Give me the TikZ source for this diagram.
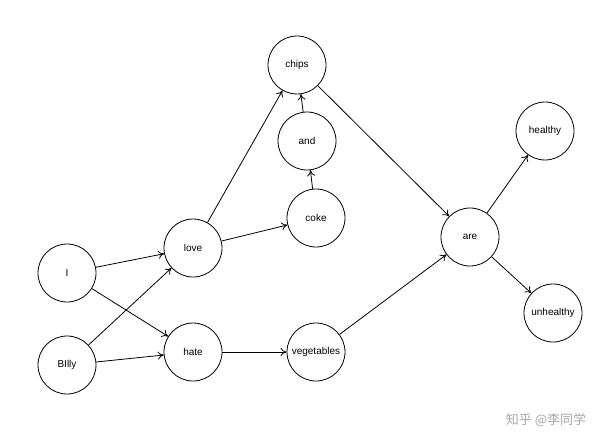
\documentclass[tikz,border=0pt]{standalone}
\usepackage{fontspec}
\setmainfont{Liberation Sans}
\newfontfamily\cjk{Noto Sans CJK SC}
\usetikzlibrary{arrows.meta}
\begin{document}
\begin{tikzpicture}[x=1pt,y=-1pt,
  word/.style={circle,draw,line width=0.8pt,minimum size=58pt,inner sep=0pt,font=\fontsize{10}{12}\selectfont},
  arr/.style={-{To[length=6pt,width=8pt]},line width=0.8pt}]
\useasboundingbox (0,0) rectangle (600,444);
\node[word] (I) at (67,273) {I};
\node[word] (B) at (67,365) {BIlly};
\node[word] (love) at (193,248) {love};
\node[word] (hate) at (193,352) {hate};
\node[word] (chips) at (297,65) {chips};
\node[word] (and) at (307,141) {and};
\node[word] (coke) at (316,218) {coke};
\node[word] (veg) at (316,352) {vegetables};
\node[word] (are) at (470,237) {are};
\node[word] (healthy) at (545,131) {healthy};
\node[word] (unhealthy) at (553,313) {unhealthy};
\draw[arr] (I) -- (love);
\draw[arr] (I) -- (hate);
\draw[arr] (B) -- (love);
\draw[arr] (B) -- (hate);
\draw[arr] (love) -- (chips);
\draw[arr] (love) -- (coke);
\draw[arr] (coke) -- (and);
\draw[arr] (and) -- (chips);
\draw[arr] (hate) -- (veg);
\draw[arr] (chips) -- (are);
\draw[arr] (veg) -- (are);
\draw[arr] (are) -- (healthy);
\draw[arr] (are) -- (unhealthy);
\node[text=gray!70,font=\cjk\fontsize{13}{15}\selectfont] (wm) at (546,420) {知乎 @李同学};
\end{tikzpicture}
\end{document}
